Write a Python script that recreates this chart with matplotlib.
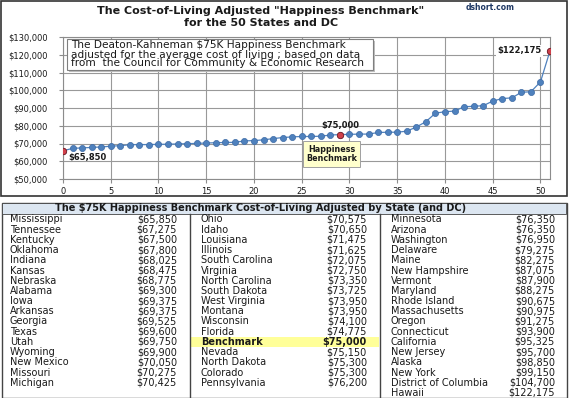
import numpy as np
import matplotlib.pyplot as plt
from matplotlib.patches import Rectangle
from matplotlib.ticker import FuncFormatter

# states sorted by cost-of-living adjusted benchmark
states = ["Mississippi", "Tennessee", "Kentucky", "Oklahoma", "Indiana", "Kansas",
          "Nebraska", "Alabama", "Iowa", "Arkansas", "Georgia", "Texas", "Utah",
          "Wyoming", "New Mexico", "Missouri", "Michigan",
          "Ohio", "Idaho", "Louisiana", "Illinois", "South Carolina", "Virginia",
          "North Carolina", "South Dakota", "West Virginia", "Montana", "Wisconsin",
          "Florida", "Benchmark", "Nevada", "North Dakota", "Colorado", "Pennsylvania",
          "Minnesota", "Arizona", "Washington", "Delaware", "Maine", "New Hampshire",
          "Vermont", "Maryland", "Rhode Island", "Massachusetts", "Oregon",
          "Connecticut", "California", "New Jersey", "Alaska", "New York",
          "District of Columbia", "Hawaii"]
values = [65850, 67275, 67500, 67800, 68025, 68475, 68775, 69300, 69375, 69375,
          69525, 69600, 69750, 69900, 70050, 70275, 70425,
          70575, 70650, 71475, 71625, 72075, 72750, 73350, 73725, 73950, 73950,
          74100, 74775, 75000, 75150, 75300, 75300, 76200,
          76350, 76350, 76950, 79275, 82275, 87075, 87900, 88275, 90675, 90975,
          91275, 93900, 95325, 95700, 98850, 99150, 104700, 122175]
col_sizes = [17, 17, 18]

W, H = 569, 398
fig = plt.figure(figsize=(W / 100, H / 100), dpi=100)
fig.patch.set_facecolor('white')

bg = fig.add_axes([0, 0, 1, 1], zorder=0)
bg.set_xlim(0, W)
bg.set_ylim(H, 0)
bg.axis('off')

dark = '#1a1a1a'

# chart panel frame
bg.add_patch(Rectangle((1, 1), 566, 195, fill=False, ec='#333333', lw=1.2))
bg.text(261, 11, 'The Cost-of-Living Adjusted "Happiness Benchmark"', ha='center', va='center',
        fontsize=8, fontweight='bold', color=dark)
bg.text(261, 23, 'for the 50 States and DC', ha='center', va='center',
        fontsize=8, fontweight='bold', color=dark)
bg.text(490, 7, 'dshort.com', ha='center', va='center', fontsize=5.5,
        fontweight='bold', color='#1f3864')

# table
tbl_top, head_h, row_h = 202.5, 10.5, 10.2
bg.add_patch(Rectangle((2, tbl_top), 565, H - tbl_top - 0.5, fill=False, ec='#444444', lw=1))
bg.add_patch(Rectangle((2.5, tbl_top + 0.5), 564, head_h, fc='#dce6f1', ec='#444444', lw=0.6))
bg.text(261, tbl_top + head_h / 2 + 0.5,
        'The $75K Happiness Benchmark Cost-of-Living Adjusted by State (and DC)',
        ha='center', va='center', fontsize=7, fontweight='bold', color=dark)

col_x = [(2, 190), (190, 380), (380, 567)]
name_x = [10, 201, 391]
val_x = [177, 367, 555]
for bx in (190, 380):
    bg.plot([bx, bx], [tbl_top + head_h + 0.5, H], color='#444444', lw=1)

start = 0
for c, n in enumerate(col_sizes):
    for r in range(n):
        i = start + r
        yc = tbl_top + head_h + 6.5 + r * row_h
        bold = states[i] == 'Benchmark'
        if bold:
            bg.add_patch(Rectangle((col_x[c][0] + 1, yc - row_h / 2), col_x[c][1] - col_x[c][0] - 2,
                                   row_h, fc='#ffff99', ec='none'))
        bg.text(name_x[c], yc, states[i], ha='left', va='center', fontsize=7,
                color=dark, fontweight='bold' if bold else 'normal')
        bg.text(val_x[c], yc, '${:,}'.format(values[i]), ha='right', va='center',
                fontsize=7, color=dark, fontweight='bold' if bold else 'normal')
    start += n

# chart
ax = fig.add_axes([63 / W, 1 - 179 / H, 487 / W, 142 / H], zorder=2)
ax.set_facecolor('none')
x = np.arange(len(values))
ax.plot(x, values, color='#4f81bd', lw=0.9, marker='o', ms=4.4,
        mfc='#4f81bd', mec='#3c6aa5', mew=0.5, zorder=3)
bench = states.index('Benchmark')
for k in (0, bench, len(values) - 1):
    ax.plot(x[k], values[k], 'o', ms=4.6, mfc='#d0404a', mec='#7a1f25', mew=0.6, zorder=4)

ax.set_xlim(0, 51)
ax.set_ylim(50000, 130000)
ax.set_xticks(np.arange(0, 51, 5))
ax.set_yticks(np.arange(50000, 130001, 10000))
ax.yaxis.set_major_formatter(FuncFormatter(lambda v, p: '${:,.0f}'.format(v)))
ax.grid(True, color='#999999', lw=0.8)
ax.set_axisbelow(True)
for s in ax.spines.values():
    s.set_color('#8c8c8c')
    s.set_linewidth(0.8)
ax.tick_params(labelsize=6, colors='#8c8c8c', labelcolor=dark, length=3, width=0.8)
ax.tick_params(axis='y', pad=8)
ax.tick_params(axis='x', pad=3)

ax.annotate('${:,}'.format(values[0]), (x[0], values[0]), xytext=(4, -5),
            textcoords='offset points', ha='left', va='center', fontsize=6,
            fontweight='bold', color=dark)
ax.annotate('${:,}'.format(values[bench]), (x[bench], values[bench]), xytext=(0, 3),
            textcoords='offset points', ha='center', va='bottom', fontsize=6,
            fontweight='bold', color=dark)
ax.annotate('${:,}'.format(values[-1]), (x[-1], values[-1]), xytext=(-6, 0),
            textcoords='offset points', ha='right', va='center', fontsize=6,
            fontweight='bold', color=dark,
            bbox=dict(boxstyle='square,pad=0.15', fc='white', ec='none'))
ax.annotate('Happiness\nBenchmark', (x[bench], values[bench]), xytext=(-6, -14),
            textcoords='offset points', ha='center', va='center', fontsize=5.8,
            fontweight='bold', color=dark, linespacing=1.1,
            bbox=dict(boxstyle='square,pad=0.4', fc='#ffffcc', ec='#a0a0a0', lw=0.7))

# note box
top = fig.add_axes([0, 0, 1, 1], zorder=5)
top.set_xlim(0, W)
top.set_ylim(H, 0)
top.axis('off')
top.add_patch(Rectangle((69, 41), 306, 31, fc='#bfbfbf', ec='none'))
top.add_patch(Rectangle((67, 39), 306, 31, fc='white', ec='#7f7f7f', lw=0.8))
note = ["The Deaton-Kahneman $75K Happiness Benchmark",
        "adjusted for the average cost of living ; based on data",
        "from  the Council for Community & Economic Research"]
for j, line in enumerate(note):
    top.text(71, 45.5 + j * 9, line, ha='left', va='center', fontsize=7.6, color=dark)

fig.savefig('out.png', dpi=100)
